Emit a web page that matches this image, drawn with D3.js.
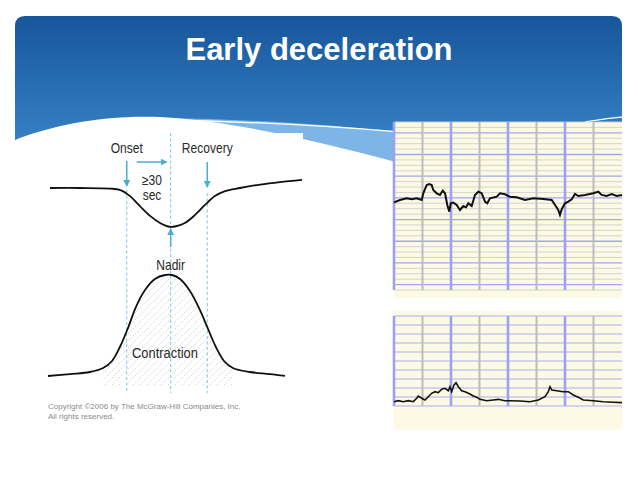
<!DOCTYPE html>
<html>
<head>
<meta charset="utf-8">
<script src="https://cdnjs.cloudflare.com/ajax/libs/d3/7.8.5/d3.min.js"></script>
<style>
  body { margin: 0; background: #fff; }
  svg { display: block; }
</style>
</head>
<body>
<script>
var title = "Early deceleration";

// schematic diagram: time (arbitrary units), FHR (bpm), contraction pressure
var diagTime = [0.8, 12.6, 24.4, 28.3, 32.3, 36.2, 40.2, 44.1, 47.2, 50, 53.9, 57.9, 61.8, 65.7, 69.7, 75.6, 83.5, 91.3, 100];
var diagFhr  = [140, 140, 139.7, 139, 135.8, 130.6, 125.5, 121.8, 120, 120, 121.8, 126, 131.2, 135.8, 138.4, 140, 141.8, 143.1, 144.2];
var ctxTime  = [0, 8.7, 16.5, 21.7, 25.2, 28.3, 31.5, 34.6, 38.2, 42.1, 46.1, 48.8, 52, 55.9, 59.8, 63, 66.1, 69.3, 72.8, 79.5, 87.4, 93.3];
var ctxPress = [1, 2.9, 4.9, 8.8, 15.7, 29.4, 48, 68.6, 85.3, 96.1, 100, 100, 96.1, 84.3, 65.7, 47.1, 29.4, 15.7, 8.8, 4.9, 2.9, 1];
var markTimes  = [31, 48.3, 62.7];            // onset, nadir, recovery
var markLabels = ["Onset", "Nadir", "Recovery"];
var durationLabel = ["\u226530", "sec"];
var ctxLabel = "Contraction";
var copyright = ["Copyright \u00a92006 by The McGraw-Hill Companies, Inc.", "All rights reserved."];

// tracing strips: minutes, FHR bpm, uterine pressure mmHg
var topMin = [0, 0.105, 0.223, 0.311, 0.398, 0.486, 0.514, 0.574, 0.619, 0.661, 0.689, 0.749, 0.807, 0.854, 0.895, 0.935, 0.97, 0.995, 1.04, 1.1, 1.158, 1.216, 1.263, 1.304, 1.363, 1.421, 1.479, 1.539, 1.596, 1.637, 1.684, 1.802, 1.86, 1.947, 2.005, 2.035, 2.153, 2.298, 2.444, 2.619, 2.767, 2.825, 2.882, 2.912, 2.942, 3.0, 3.058, 3.118, 3.175, 3.233, 3.351, 3.496, 3.584, 3.644, 3.731, 3.819, 3.907, 4.0];
var topBpm = [135.9, 138, 139.6, 138.7, 139.6, 138, 144.2, 151.9, 152.8, 151.9, 147.3, 144.2, 142.7, 146.6, 144.2, 133.4, 127.3, 135, 135.6, 133.4, 128.8, 132.5, 131.3, 135, 132.5, 142.7, 145.7, 144.2, 136.5, 135, 139.6, 141.1, 144.2, 143.3, 141.7, 141.1, 140.5, 138, 139.6, 139, 138, 133.4, 128.8, 124.2, 129.5, 135, 136.5, 138.7, 143.6, 141.7, 142.7, 144.2, 145.7, 142.7, 141.7, 143.6, 141.7, 142.7];
var botMin = [0, 0.075, 0.163, 0.251, 0.339, 0.398, 0.426, 0.486, 0.544, 0.602, 0.661, 0.719, 0.777, 0.837, 0.895, 0.953, 0.982, 1.012, 1.053, 1.088, 1.128, 1.188, 1.246, 1.333, 1.391, 1.451, 1.509, 1.626, 1.742, 1.83, 1.947, 2.035, 2.211, 2.386, 2.532, 2.649, 2.707, 2.737, 2.767, 2.854, 2.97, 3.058, 3.146, 3.233, 3.321, 3.496, 3.672, 3.847, 4.0];
var botMmHg = [4.8, 5.9, 4.8, 5.9, 4.8, 8.6, 11.1, 8.6, 6.7, 10.3, 14.1, 15.9, 14.8, 18.6, 19.7, 17, 21.4, 15.9, 23.3, 25.9, 21.4, 17, 15.9, 13.3, 11.1, 9.7, 7.4, 5.9, 6.7, 7.4, 5.9, 5.9, 5.6, 4.8, 6.7, 10.3, 15.9, 21.4, 17.8, 17, 15.9, 15.9, 12.2, 9.7, 6.7, 5.9, 4.8, 4.1, 3.7];
var gridMin = [0, 0.5, 1, 1.5, 2, 2.5, 3, 3.5];
var bpmLines = d3.range(55, 211, 5);
var uaLines = d3.range(0, 101, 10);

var W = 638, H = 479;
var svg = d3.select("body").append("svg").attr("width", W).attr("height", H);
var defs = svg.append("defs");

// slide background
var grad = defs.append("linearGradient").attr("id", "bg").attr("x1", 0).attr("y1", 0).attr("x2", 0).attr("y2", 1);
grad.append("stop").attr("offset", "0%").attr("stop-color", "#17569a");
grad.append("stop").attr("offset", "100%").attr("stop-color", "#4593d8");

svg.append("path")
  .attr("d", "M15,26 Q15,16 25,16 L612,16 Q622,16 622,26 L622,200 L15,200 Z")
  .attr("fill", "url(#bg)");
// light blue band
svg.append("path")
  .attr("d", "M160,118 C250,119 330,125 400,132 L622,145 L622,200 L400,200 L400,163 C330,146 250,126 160,118 Z")
  .attr("fill", "#7db5e6");
// white wave
svg.append("path")
  .attr("d", "M15,140 C50,126 100,115 160,117 C230,121 310,139 400,163 L400,210 L15,210 Z")
  .attr("fill", "#fff");
svg.append("path")
  .attr("d", "M172,120 C260,122 330,126 400,132")
  .attr("fill", "none").attr("stroke", "#fff").attr("stroke-width", 1.3);
svg.append("path")
  .attr("d", "M585,122 C600,119 612,118 622,117")
  .attr("fill", "none").attr("stroke", "#fff").attr("stroke-width", 1.3);
svg.append("rect").attr("x", 0).attr("y", 200).attr("width", W).attr("height", H - 200).attr("fill", "#fff");

svg.append("text")
  .attr("x", 319).attr("y", 60)
  .attr("text-anchor", "middle")
  .attr("font-family", "Liberation Sans, Arial, sans-serif")
  .attr("font-weight", "bold").attr("font-size", 31)
  .attr("fill", "#fff")
  .text(title);

// ---------- left schematic ----------
svg.append("rect").attr("x", 45).attr("y", 133).attr("width", 258).attr("height", 300).attr("fill", "#fff");

var dx = d3.scaleLinear().domain([0, 100]).range([48, 302]);
var fhrY = d3.scaleLinear().domain([100, 160]).range([265, 149.5]);
var ctxY = d3.scaleLinear().domain([0, 100]).range([377, 275]);

var hatch = defs.append("pattern").attr("id", "hatch")
  .attr("patternUnits", "userSpaceOnUse").attr("width", 7).attr("height", 7);
hatch.append("path").attr("d", "M0,7 L7,0")
  .attr("stroke", "#b4b4b4").attr("stroke-width", 0.6).attr("stroke-dasharray", "1.5,1.6");

var ctxPts = ctxTime.map(function(t, i) { return [t, ctxPress[i]]; });
var hatchPts = ctxPts.filter(function(d) { return d[0] >= 20 && d[0] <= 76; });
svg.append("path")
  .datum(hatchPts)
  .attr("fill", "url(#hatch)")
  .attr("d", d3.area().curve(d3.curveCatmullRom)
    .x(function(d) { return dx(d[0]); })
    .y0(ctxY(-8))
    .y1(function(d) { return ctxY(d[1]); }));

var cyan = "#49afcc";
// dashed guides
var guideTop = [190, 133, 193];
markTimes.forEach(function(t, i) {
  svg.append("line")
    .attr("x1", dx(t)).attr("x2", dx(t))
    .attr("y1", guideTop[i]).attr("y2", 393)
    .attr("stroke", "#7cc6da").attr("stroke-width", 1)
    .attr("stroke-dasharray", "3,2.5");
});

svg.append("path")
  .datum(diagTime.map(function(t, i) { return [t, diagFhr[i]]; }))
  .attr("fill", "none").attr("stroke", "#111").attr("stroke-width", 1.8)
  .attr("d", d3.line().curve(d3.curveCatmullRom)
    .x(function(d) { return dx(d[0]); })
    .y(function(d) { return fhrY(d[1]); }));

svg.append("path")
  .datum(ctxPts)
  .attr("fill", "none").attr("stroke", "#111").attr("stroke-width", 1.8)
  .attr("d", d3.line().curve(d3.curveCatmullRom)
    .x(function(d) { return dx(d[0]); })
    .y(function(d) { return ctxY(d[1]); }));

defs.append("marker").attr("id", "ah")
  .attr("viewBox", "0 0 8 8").attr("refX", 7).attr("refY", 4)
  .attr("markerWidth", 7).attr("markerHeight", 7)
  .attr("markerUnits", "userSpaceOnUse").attr("orient", "auto")
  .append("path").attr("d", "M0,0 L8,4 L0,8 Z").attr("fill", cyan);

function arrow(x1, y1, x2, y2) {
  svg.append("line")
    .attr("x1", x1).attr("y1", y1).attr("x2", x2).attr("y2", y2)
    .attr("stroke", cyan).attr("stroke-width", 1.5)
    .attr("marker-end", "url(#ah)");
}
arrow(dx(markTimes[0]), 161, dx(markTimes[0]), 186);
arrow(dx(markTimes[2]), 162, dx(markTimes[2]), 187);
arrow(dx(markTimes[0]) + 10, 162, dx(markTimes[1]) - 4, 162);
arrow(dx(markTimes[1]), 247, dx(markTimes[1]), 229);

// narrow-looking labels: regular sans squeezed horizontally
function label(txt, x, y, size) {
  svg.append("text")
    .attr("transform", "translate(" + x + "," + y + ") scale(0.86,1)")
    .attr("text-anchor", "middle")
    .attr("font-family", "Liberation Sans, Arial, sans-serif").attr("font-size", size)
    .attr("fill", "#2a2a2a").text(txt);
}
label(markLabels[0], dx(markTimes[0]), 153, 14);
label(markLabels[2], dx(markTimes[2]), 153, 14);
label(markLabels[1], dx(markTimes[1]), 270, 14);
label(durationLabel[0], 152, 185, 14);
label(durationLabel[1], 152, 200, 14);
label(ctxLabel, 165, 358, 15);

copyright.forEach(function(c, i) {
  svg.append("text").attr("x", 48).attr("y", 409 + i * 10)
    .attr("font-family", "Liberation Sans, Arial, sans-serif")
    .attr("font-size", 8).attr("fill", "#8a8a8a").text(c);
});

// ---------- tracing strips ----------
var sx = d3.scaleLinear().domain([0, 4]).range([394, 622]);
var bpmY = d3.scaleLinear().domain([55, 210]).range([290, 122]);
var uaY = d3.scaleLinear().domain([0, 100]).range([406, 316]);
var cream = "#fcfae4";

svg.append("rect").attr("x", sx(0)).attr("y", bpmY(210)).attr("width", sx(4) - sx(0)).attr("height", 176).attr("fill", cream);
svg.append("rect").attr("x", sx(0)).attr("y", 311).attr("width", sx(4) - sx(0)).attr("height", 119).attr("fill", cream);

var topG = svg.append("g");
topG.selectAll(".h").data(bpmLines).enter().append("line")
  .attr("x1", sx(0)).attr("x2", sx(4))
  .attr("y1", function(d) { return bpmY(d); }).attr("y2", function(d) { return bpmY(d); })
  .attr("stroke", function(d) { return d % 20 === 0 ? "#a3a6ee" : "#cfcfcf"; })
  .attr("stroke-width", function(d) { return d % 20 === 0 ? 1.3 : 0.9; });
topG.selectAll(".v").data(gridMin).enter().append("line")
  .attr("x1", function(d) { return sx(d); }).attr("x2", function(d) { return sx(d); })
  .attr("y1", bpmY(210)).attr("y2", bpmY(55))
  .attr("stroke", function(d) { return d % 1 === 0 ? "#9da1f2" : "#bcbcbc"; })
  .attr("stroke-width", function(d) { return d % 1 === 0 ? 2.6 : 2; });

var botG = svg.append("g");
botG.selectAll(".h").data(uaLines).enter().append("line")
  .attr("x1", sx(0)).attr("x2", sx(4))
  .attr("y1", function(d) { return uaY(d); }).attr("y2", function(d) { return uaY(d); })
  .attr("stroke", "#a9aeef").attr("stroke-width", 1.2);
botG.selectAll(".v").data(gridMin).enter().append("line")
  .attr("x1", function(d) { return sx(d); }).attr("x2", function(d) { return sx(d); })
  .attr("y1", uaY(100)).attr("y2", uaY(0))
  .attr("stroke", function(d) { return d % 1 === 0 ? "#9da1f2" : "#bcbcbc"; })
  .attr("stroke-width", function(d) { return d % 1 === 0 ? 2.6 : 2; });

svg.append("path")
  .datum(topMin.map(function(t, i) { return [t, topBpm[i]]; }))
  .attr("fill", "none").attr("stroke", "#111").attr("stroke-width", 2)
  .attr("d", d3.line()
    .x(function(d) { return sx(d[0]); })
    .y(function(d) { return bpmY(d[1]); }));

svg.append("path")
  .datum(botMin.map(function(t, i) { return [t, botMmHg[i]]; }))
  .attr("fill", "none").attr("stroke", "#111").attr("stroke-width", 1.6)
  .attr("d", d3.line()
    .x(function(d) { return sx(d[0]); })
    .y(function(d) { return uaY(d[1]); }));
</script>
</body>
</html>
